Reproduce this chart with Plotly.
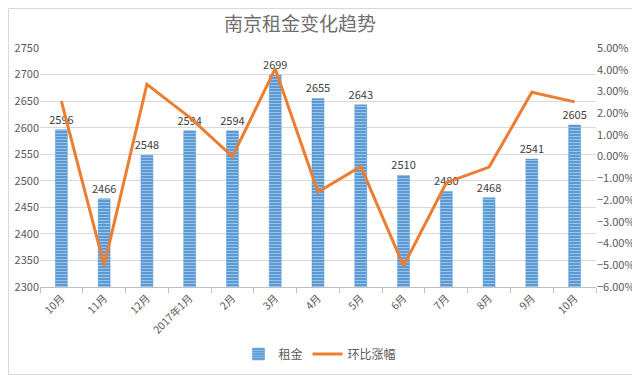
import plotly.graph_objects as go

months = ["10月", "11月", "12月", "2017年1月", "2月", "3月", "4月", "5月", "6月", "7月", "8月", "9月", "10月"]
rent = [2596, 2466, 2548, 2594, 2594, 2699, 2655, 2643, 2510, 2480, 2468, 2541, 2605]
mom_change = [0.0256, -0.0501, 0.0333, 0.0181, 0.0000, 0.0405, -0.0163, -0.0045, -0.0503, -0.0120, -0.0048, 0.0296, 0.0252]

x = list(range(len(months)))
FONT = "Noto Sans CJK SC, Noto Sans, sans-serif"

# page body has an 8px margin, so the figure is sized to fit 640x375 window
W, H = 632, 367
L, R, T, B = 32, 44, 40, 88
PW, PH = W - L - R, H - T - B

fig = go.Figure()
fig.add_trace(go.Bar(
    x=x, y=rent, name="租金", width=0.28,
    marker=dict(color="#5B9BD5", line=dict(color="#5B9BD5", width=0.5),
                pattern=dict(shape="-", fgcolor="#DDEBF7", size=3, solidity=0.35)),
    text=[str(v) for v in rent], textposition="outside", constraintext="none",
    textfont=dict(size=11, color="#404040"), cliponaxis=False,
))
fig.add_trace(go.Scatter(
    x=x, y=mom_change, name="环比涨幅", yaxis="y2", mode="lines",
    line=dict(color="#ED7D31", width=3),
))

fig.update_layout(
    width=W, height=H,
    margin=dict(l=L, r=R, t=T, b=B, autoexpand=False),
    paper_bgcolor="white", plot_bgcolor="white",
    font=dict(family=FONT, color="#595959", size=11),
    title=dict(text="南京租金变化趋势", x=292 / W, xanchor="center", y=1 - 16 / H, yanchor="middle",
               font=dict(size=19, color="#707070", family=FONT)),
    showlegend=True,
    legend=dict(orientation="h", x=(312 - L) / PW, xanchor="center", y=-(346 - (H - B)) / PH,
                yanchor="middle", font=dict(size=12, color="#595959")),
    bargap=0.7,
    xaxis=dict(
        range=[-0.5, 12.5], tickvals=x, ticktext=months, tickangle=-45, automargin=False,
        showgrid=False, showline=True, linecolor="#BFBFBF", linewidth=1,
        ticks="", tickfont=dict(size=10.5, color="#595959"),
        minor=dict(ticks="outside", tick0=-0.5, dtick=1, ticklen=5, tickcolor="#BFBFBF", showgrid=False),
    ),
    yaxis=dict(
        range=[2300, 2750], dtick=50, showgrid=True, gridcolor="#D9D9D9", gridwidth=1,
        zeroline=False, tickfont=dict(size=11, color="#595959"), ticks="", automargin=False,
    ),
    yaxis2=dict(
        overlaying="y", side="right", range=[-0.06, 0.05], dtick=0.01, tickformat=".2%",
        showgrid=False, zeroline=False, tickfont=dict(size=11, color="#595959"), ticks="",
        automargin=False,
    ),
    shapes=[dict(type="rect", xref="paper", yref="paper",
                 x0=-(L - 0.5) / PW, x1=1 + (R - 0.5) / PW, y0=-(B - 0.5) / PH, y1=1 + (T - 0.5) / PH,
                 line=dict(color="#D9D9D9", width=1))],
)

fig.write_html("out.html")
